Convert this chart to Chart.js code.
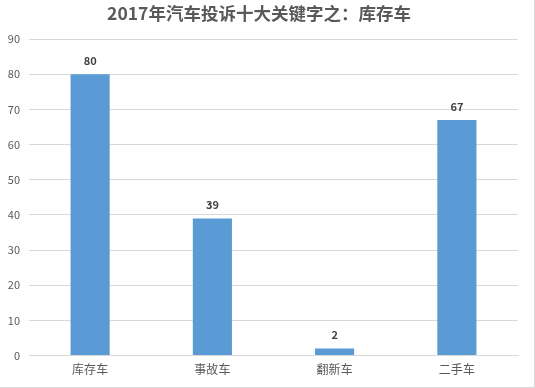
<!DOCTYPE html>
<html><head><meta charset="utf-8">
<script src="https://cdn.jsdelivr.net/npm/chart.js@4/dist/chart.umd.min.js"></script>
<style>
html,body{margin:0;padding:0;background:#fff;}
#wrap{position:relative;width:535px;height:388px;box-sizing:border-box;border-right:1px solid #d9d9d9;border-bottom:1px solid #d9d9d9;}
</style></head>
<body><div id="wrap"><canvas id="c" width="535" height="388"></canvas></div>
<script>
const categories = ['库存车','事故车','翻新车','二手车'];
const values = [80, 39, 2, 67];
const titleText = '2017年汽车投诉十大关键字之：库存车';
const FONT = '"Noto Sans CJK SC","Microsoft YaHei",sans-serif';

const labelPlugin = {
  id:'vlabels',
  afterDatasetsDraw(chart){
    const ctx = chart.ctx;
    const meta = chart.getDatasetMeta(0);
    ctx.save();
    ctx.font = 'bold 11px ' + FONT;
    ctx.fillStyle = '#404040';
    ctx.textAlign = 'center';
    ctx.textBaseline = 'bottom';
    meta.data.forEach((bar,i)=>{
      ctx.fillText(String(values[i]), bar.x, bar.y - 8);
    });
    ctx.restore();
  }
};

new Chart(document.getElementById('c'), {
  type:'bar',
  data:{labels:categories, datasets:[{data:values, backgroundColor:'#5b9bd5', barPercentage:0.32, categoryPercentage:1}]},
  options:{
    responsive:false, animation:false,
    layout:{padding:{left:0,right:17,top:3,bottom:4}},
    plugins:{
      legend:{display:false}, tooltip:{enabled:false},
      title:{display:true, text:titleText, color:'#595959', font:{family:FONT, size:17.5, weight:'bold'}, padding:{top:0,bottom:15}}
    },
    scales:{
      x:{grid:{display:false, drawTicks:false}, border:{display:true,color:'#d9d9d9'},
         ticks:{color:'#595959', font:{family:FONT,size:12}, padding:7}},
      y:{min:0,max:90, grid:{color:'#d9d9d9', drawTicks:false}, border:{display:false},
         ticks:{stepSize:10, color:'#595959', font:{family:FONT,size:11}, padding:9},
         afterFit(s){ s.width = 29; }}
    }
  },
  plugins:[labelPlugin]
});
</script></body></html>
